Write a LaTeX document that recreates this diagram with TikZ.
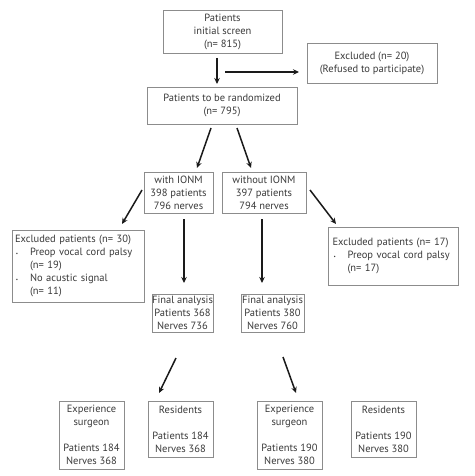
\documentclass[tikz,border=0pt]{standalone}
\usepackage{fontspec}
\setmainfont{PT Sans}
\usetikzlibrary{arrows.meta}
\definecolor{txt}{HTML}{3A3A3A}
\definecolor{bord}{HTML}{8C8C8C}
\definecolor{arr}{HTML}{1A1A1A}
\begin{document}
\begin{tikzpicture}[x=1pt,y=-1pt,
  box/.style={draw=bord,line width=0.9pt,text=txt,align=center,inner sep=0pt,
    font=\fontsize{10.5}{13}\selectfont},
  lbox/.style={draw=bord,line width=0.9pt,text=txt,align=left,inner ysep=0pt,
    font=\fontsize{10.5}{13}\selectfont},
  arrow/.style={draw=arr,line width=1.5pt,-{Stealth[length=6pt,width=5.5pt]}}]
\useasboundingbox[fill=white] (0,0) rectangle (474,476);
\newcommand{\bul}{\makebox[15pt][l]{\hspace*{1pt}{\tiny\textbullet}}}
\newcommand{\ind}{\hspace*{15pt}}
\node[box,minimum width=119,minimum height=43] (top) at (222.5,31.5) {Patients\\initial screen\\(n= 815)};
\node[box,minimum width=130,minimum height=40] (excl) at (372,63) {Excluded (n= 20)\\(Refused to participate)};
\node[box,minimum width=150,minimum height=37] (rand) at (222,105.5) {Patients to be randomized\\(n= 795)};
\node[box,minimum width=69,minimum height=41] (with) at (178.5,192.5) {with IONM\\398 patients\\796 nerves};
\node[box,minimum width=84,minimum height=41] (without) at (264,192.5) {without IONM\\397 patients\\794 nerves};
\node[lbox,text width=126,inner xsep=3,minimum height=72] (exl) at (78,266) {Excluded patients (n= 30)\\\bul Preop vocal cord palsy\\\ind(n= 19)\\\bul No acustic signal\\\ind(n= 11)};
\node[lbox,text width=121,inner xsep=4.5,minimum height=58] (exr) at (393,256) {Excluded patients (n= 17)\\\bul Preop vocal cord palsy\\\ind(n= 17)};
\node[box,minimum width=61,minimum height=38] (finl) at (182.5,313) {Final analysis\\Patients 368\\Nerves 736};
\node[box,minimum width=63,minimum height=38] (finr) at (272.5,313) {Final analysis\\Patients 380\\Nerves 760};
\node[box,minimum width=65,minimum height=68] (exp1) at (91.5,435) {Experience\\surgeon\\[13pt]Patients 184\\Nerves 368};
\node[box,minimum width=65,minimum height=56] (res1) at (180.5,429) {Residents\\[13pt]Patients 184\\Nerves 368};
\node[box,minimum width=65,minimum height=68] (exp2) at (289.5,435) {Experience\\surgeon\\[13pt]Patients 190\\Nerves 380};
\node[box,minimum width=65,minimum height=56] (res2) at (383.5,429) {Residents\\[13pt]Patients 190\\Nerves 380};
% arrow end points
\coordinate (a1s) at (217,58);  \coordinate (a1e) at (217,84);
\coordinate (a2s) at (225,72);  \coordinate (a2e) at (299,72);
\coordinate (a3s) at (211,128); \coordinate (a3e) at (197,168);
\coordinate (a4s) at (237,128); \coordinate (a4e) at (251,168);
\coordinate (a5s) at (142,190); \coordinate (a5e) at (122,224);
\coordinate (a6s) at (310,190); \coordinate (a6e) at (336,224);
\coordinate (a7s) at (184,219); \coordinate (a7e) at (184,283);
\coordinate (a8s) at (262,219); \coordinate (a8e) at (262,283);
\coordinate (a9s) at (176,358); \coordinate (a9e) at (159,393);
\coordinate (a10s) at (283,357); \coordinate (a10e) at (296,393);
\draw[arrow] (a1s) -- (a1e);
\draw[arrow] (a2s) -- (a2e);
\draw[arrow] (a3s) -- (a3e);
\draw[arrow] (a4s) -- (a4e);
\draw[arrow] (a5s) -- (a5e);
\draw[arrow] (a6s) -- (a6e);
\draw[arrow] (a7s) -- (a7e);
\draw[arrow] (a8s) -- (a8e);
\draw[arrow] (a9s) -- (a9e);
\draw[arrow] (a10s) -- (a10e);
\end{tikzpicture}
\end{document}
